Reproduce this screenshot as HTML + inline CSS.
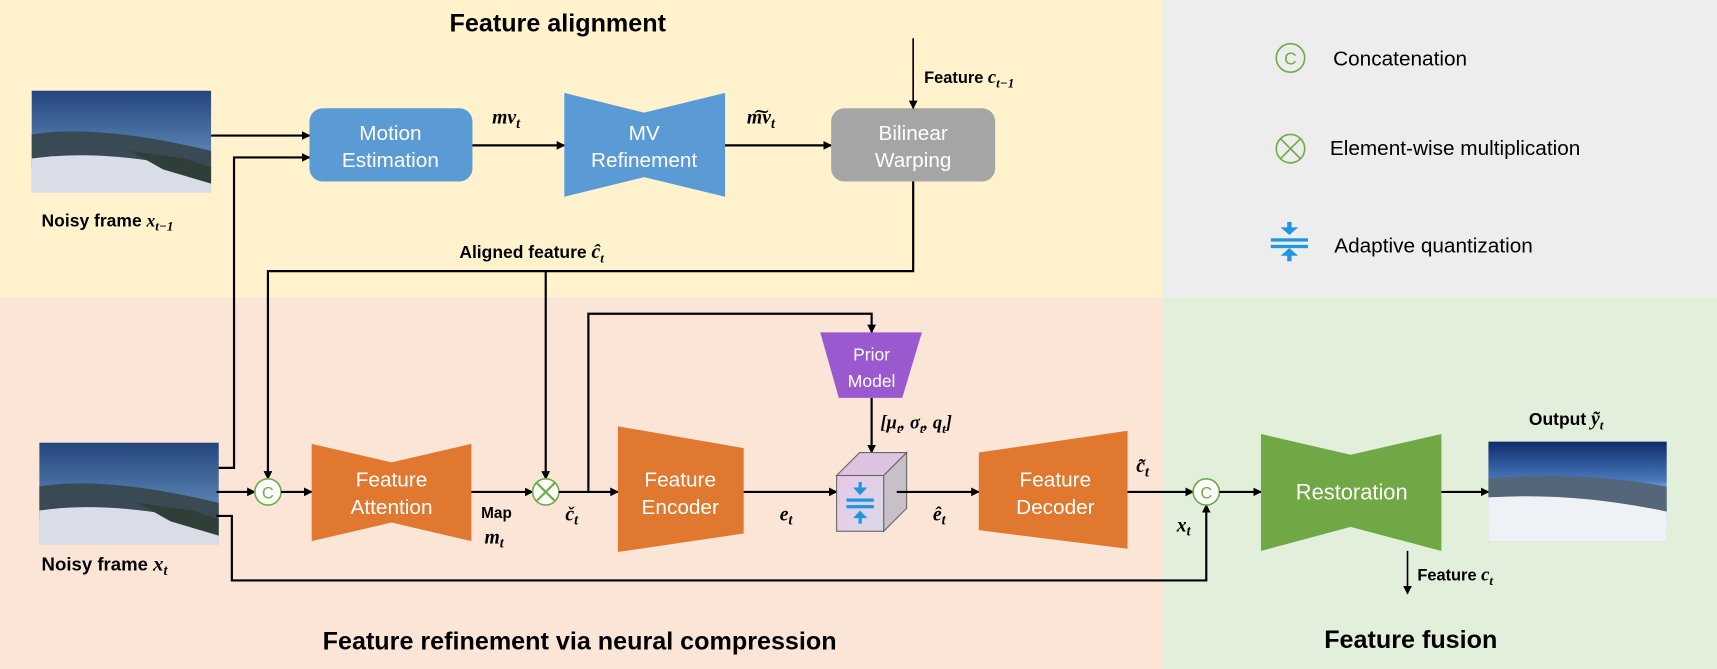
<!DOCTYPE html>
<html><head><meta charset="utf-8"><style>
html,body{margin:0;padding:0;background:#fff;}
svg{display:block}
text{font-family:"Liberation Sans",sans-serif;}
.m{font-family:"Liberation Serif",serif;font-style:italic;font-weight:bold;}
</style></head><body>
<svg width="1717" height="669" viewBox="0 0 1570 612" preserveAspectRatio="none" xmlns="http://www.w3.org/2000/svg">
<defs>
<marker id="a" markerWidth="8" markerHeight="8" refX="7" refY="4" orient="auto" markerUnits="userSpaceOnUse"><path d="M0,0 L8,4 L0,8 z" fill="#000"/></marker>
<linearGradient id="sky" x1="0" y1="0" x2="0" y2="1"><stop offset="0" stop-color="#24467e"/><stop offset="0.5" stop-color="#4f78a8"/><stop offset="1" stop-color="#8aa3c0"/></linearGradient>
<linearGradient id="sky2" x1="0" y1="0" x2="0" y2="1"><stop offset="0" stop-color="#0f2b6a"/><stop offset="0.4" stop-color="#4a7bc0"/><stop offset="0.5" stop-color="#b8c6da"/><stop offset="1" stop-color="#9fb3cc"/></linearGradient>
<linearGradient id="cube" x1="0" y1="0" x2="1" y2="1"><stop offset="0" stop-color="#e8c8e6"/><stop offset="1" stop-color="#d9d9e8"/></linearGradient>
<g id="noisy">
<rect x="0" y="0" width="164" height="93" fill="url(#sky)"/>
<path d="M0,40 Q60,30 164,55 L164,80 Q80,60 0,70 z" fill="#3a4a55"/>
<path d="M0,62 Q70,52 164,75 L164,93 L0,93 z" fill="#d8dde8"/>
<path d="M90,55 L140,62 L164,70 L164,85 L120,72 z" fill="#2f3f38"/>
</g>
</defs>
<rect x="0" y="0" width="1063" height="272" fill="#fff2cc"/>
<rect x="1063" y="0" width="507" height="272" fill="#ededed"/>
<rect x="0" y="272" width="1063" height="340" fill="#fbe5d6"/>
<rect x="1063" y="272" width="507" height="340" fill="#e2efda"/>

<text x="510" y="29" font-size="23" font-weight="bold" text-anchor="middle">Feature alignment</text>
<text x="530" y="594" font-size="23" font-weight="bold" text-anchor="middle">Feature refinement via neural compression</text>
<text x="1290" y="593" font-size="23" font-weight="bold" text-anchor="middle">Feature fusion</text>

<circle cx="1180" cy="53" r="13" fill="none" stroke="#70ad47" stroke-width="1.5"/>
<text x="1180" y="59" font-size="16" fill="#70ad47" text-anchor="middle">C</text>
<text x="1219" y="60" font-size="19">Concatenation</text>
<circle cx="1180" cy="136" r="13" fill="none" stroke="#70ad47" stroke-width="1.5"/>
<path d="M1171,127 L1189,145 M1189,127 L1171,145" stroke="#70ad47" stroke-width="1.5"/>
<text x="1216" y="142" font-size="19">Element-wise multiplication</text>
<g fill="#1e96e0">
<rect x="1162" y="218" width="34" height="3"/><rect x="1162" y="224" width="34" height="3"/>
<rect x="1177" y="203" width="4" height="7"/><path d="M1171,208 L1187,208 L1179,215 z"/>
<rect x="1177" y="232" width="4" height="7"/><path d="M1171,234 L1187,234 L1179,227 z"/>
</g>
<text x="1220" y="231" font-size="19">Adaptive quantization</text>

<use href="#noisy" x="29" y="83"/>
<text x="38" y="207" font-size="16" font-weight="bold">Noisy frame <tspan class="m">x</tspan><tspan class="m" font-size="12" dy="4">t−1</tspan></text>
<line x1="193" y1="124" x2="283" y2="124" stroke="#000" stroke-width="2" marker-end="url(#a)"/>
<polyline points="198,428 214,428 214,144 283,144" fill="none" stroke="#000" stroke-width="2" marker-end="url(#a)"/>
<rect x="283" y="99" width="149" height="67" rx="12" fill="#5b9bd5"/>
<text x="357" y="128" font-size="19" fill="#fff" text-anchor="middle">Motion</text>
<text x="357" y="153" font-size="19" fill="#fff" text-anchor="middle">Estimation</text>
<line x1="432" y1="133" x2="516" y2="133" stroke="#000" stroke-width="2" marker-end="url(#a)"/>
<text x="450" y="113" class="m" font-size="18">mv<tspan font-size="13" dy="4">t</tspan></text>
<path d="M516,85 L589,103 L663,85 L663,180 L589,162 L516,180 z" fill="#5b9bd5"/>
<text x="589" y="128" font-size="19" fill="#fff" text-anchor="middle">MV</text>
<text x="589" y="153" font-size="19" fill="#fff" text-anchor="middle">Refinement</text>
<line x1="663" y1="133" x2="760" y2="133" stroke="#000" stroke-width="2" marker-end="url(#a)"/>
<text x="683" y="113" class="m" font-size="18">m͠v<tspan font-size="13" dy="4">t</tspan></text>
<rect x="760" y="99" width="150" height="67" rx="12" fill="#a5a5a5"/>
<text x="835" y="128" font-size="19" fill="#fff" text-anchor="middle">Bilinear</text>
<text x="835" y="153" font-size="19" fill="#fff" text-anchor="middle">Warping</text>
<line x1="835" y1="35" x2="835" y2="99" stroke="#000" stroke-width="1.5" marker-end="url(#a)"/>
<text x="845" y="76" font-size="15" font-weight="bold">Feature <tspan class="m" font-size="17">c</tspan><tspan class="m" font-size="12" dy="4">t−1</tspan></text>

<polyline points="835,166 835,248 245,248 245,438" fill="none" stroke="#000" stroke-width="2" marker-end="url(#a)"/>
<line x1="499" y1="248" x2="499" y2="438" stroke="#000" stroke-width="2" marker-end="url(#a)"/>
<text x="420" y="236" font-size="16" font-weight="bold">Aligned feature <tspan class="m" font-size="18">ĉ</tspan><tspan class="m" font-size="12" dy="4">t</tspan></text>

<use href="#noisy" x="36" y="405" transform="translate(0,0)"/>
<text x="38" y="522" font-size="17" font-weight="bold">Noisy frame <tspan class="m" font-size="19">x</tspan><tspan class="m" font-size="13" dy="4">t</tspan></text>
<line x1="198" y1="450" x2="233" y2="450" stroke="#000" stroke-width="2" marker-end="url(#a)"/>
<circle cx="245" cy="450" r="12" fill="#fff" stroke="#70ad47" stroke-width="1.5"/>
<text x="245" y="456" font-size="15" fill="#70ad47" text-anchor="middle">C</text>
<line x1="257" y1="450" x2="285" y2="450" stroke="#000" stroke-width="2" marker-end="url(#a)"/>
<path d="M285,406 L358,423 L431,406 L431,495 L358,478 L285,495 z" fill="#e07830"/>
<text x="358" y="445" font-size="19" fill="#fff" text-anchor="middle">Feature</text>
<text x="358" y="470" font-size="19" fill="#fff" text-anchor="middle">Attention</text>
<line x1="431" y1="450" x2="487" y2="450" stroke="#000" stroke-width="2" marker-end="url(#a)"/>
<text x="440" y="474" font-size="14" font-weight="bold">Map</text>
<text x="443" y="497" class="m" font-size="18">m<tspan font-size="13" dy="4">t</tspan></text>
<circle cx="499" cy="450" r="12" fill="#fff" stroke="#70ad47" stroke-width="1.5"/>
<path d="M491,442 L507,458 M507,442 L491,458" stroke="#70ad47" stroke-width="2"/>
<text x="517" y="476" class="m" font-size="18">č<tspan font-size="13" dy="4">t</tspan></text>
<line x1="511" y1="450" x2="565" y2="450" stroke="#000" stroke-width="2" marker-end="url(#a)"/>
<polyline points="538,450 538,287 797,287 797,304" fill="none" stroke="#000" stroke-width="2" marker-end="url(#a)"/>
<path d="M750,304 L843,304 L825,364 L767,364 z" fill="#9b59d0"/>
<text x="797" y="330" font-size="16" fill="#fff" text-anchor="middle">Prior</text>
<text x="797" y="354" font-size="16" fill="#fff" text-anchor="middle">Model</text>
<line x1="797" y1="364" x2="797" y2="414" stroke="#000" stroke-width="2" marker-end="url(#a)"/>
<text x="805" y="392" class="m" font-size="17">[μ<tspan font-size="12" dy="4">t</tspan><tspan dy="-4">, σ</tspan><tspan font-size="12" dy="4">t</tspan><tspan dy="-4">, q</tspan><tspan font-size="12" dy="4">t</tspan><tspan dy="-4">]</tspan></text>
<path d="M565,390 L680,410 L680,488 L565,505 z" fill="#e07830"/>
<text x="622" y="445" font-size="19" fill="#fff" text-anchor="middle">Feature</text>
<text x="622" y="470" font-size="19" fill="#fff" text-anchor="middle">Encoder</text>
<line x1="680" y1="450" x2="765" y2="450" stroke="#000" stroke-width="2" marker-end="url(#a)"/>
<text x="713" y="476" class="m" font-size="18">e<tspan font-size="13" dy="4">t</tspan></text>
<path d="M765,435 L786,414 L829,414 L808,435 z" fill="#dcc3e0" stroke="#666" stroke-width="1"/>
<path d="M808,435 L829,414 L829,465 L808,486 z" fill="#c8c0c8" stroke="#666" stroke-width="1"/>
<rect x="765" y="435" width="43" height="51" fill="url(#cube)" stroke="#666" stroke-width="1"/>
<g fill="#1e96e0">
<rect x="774" y="456" width="25" height="3"/><rect x="774" y="462" width="25" height="3"/>
<path d="M780,446 L793,446 L786.5,453 z"/><rect x="785" y="441" width="3" height="6"/>
<path d="M780,474 L793,474 L786.5,467 z"/><rect x="785" y="473" width="3" height="6"/>
</g>
<line x1="820" y1="450" x2="895" y2="450" stroke="#000" stroke-width="2" marker-end="url(#a)"/>
<text x="853" y="476" class="m" font-size="18">ê<tspan font-size="13" dy="4">t</tspan></text>
<path d="M895,414 L1031,394 L1031,502 L895,485 z" fill="#e07830"/>
<text x="965" y="445" font-size="19" fill="#fff" text-anchor="middle">Feature</text>
<text x="965" y="470" font-size="19" fill="#fff" text-anchor="middle">Decoder</text>
<line x1="1031" y1="450" x2="1091" y2="450" stroke="#000" stroke-width="2" marker-end="url(#a)"/>
<text x="1039" y="432" class="m" font-size="18">c̃<tspan font-size="13" dy="4">t</tspan></text>
<polyline points="198,472 212,472 212,531 1103,531 1103,462" fill="none" stroke="#000" stroke-width="2" marker-end="url(#a)"/>
<text x="1076" y="486" class="m" font-size="18">x<tspan font-size="13" dy="4">t</tspan></text>
<circle cx="1103" cy="450" r="12" fill="#fff" stroke="#70ad47" stroke-width="1.5"/>
<text x="1103" y="456" font-size="15" fill="#70ad47" text-anchor="middle">C</text>
<line x1="1115" y1="450" x2="1153" y2="450" stroke="#000" stroke-width="2" marker-end="url(#a)"/>
<path d="M1153,397 L1235,416 L1318,397 L1318,504 L1235,482 L1153,504 z" fill="#70a845"/>
<text x="1236" y="457" font-size="20" fill="#fff" text-anchor="middle">Restoration</text>
<line x1="1318" y1="450" x2="1361" y2="450" stroke="#000" stroke-width="2" marker-end="url(#a)"/>
<rect x="1361" y="404" width="163" height="91" fill="url(#sky2)"/>
<path d="M1361,438 Q1440,430 1524,445 L1524,470 Q1450,455 1361,460 z" fill="#55657a"/>
<path d="M1361,455 Q1440,450 1524,468 L1524,495 L1361,495 z" fill="#eef2f7"/>
<text x="1398" y="389" font-size="16" font-weight="bold">Output <tspan class="m" font-size="18">ỹ</tspan><tspan class="m" font-size="12" dy="4">t</tspan></text>
<line x1="1287" y1="504" x2="1287" y2="543" stroke="#000" stroke-width="1.5" marker-end="url(#a)"/>
<text x="1296" y="531" font-size="15" font-weight="bold">Feature <tspan class="m" font-size="17">c</tspan><tspan class="m" font-size="12" dy="4">t</tspan></text>
</svg>
</body></html>
